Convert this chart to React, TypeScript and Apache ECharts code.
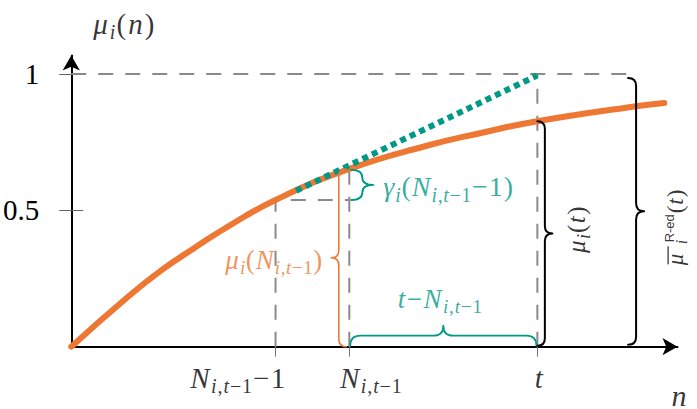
import React, { useEffect, useRef } from 'react';
import * as echarts from 'echarts';

// ---------------- data ----------------
const curveN = [0, 0.77, 1.22, 1.67, 2.12, 2.77, 3.77, 4.82, 5.54, 6.32, 7.66, 8.04];
const curveMu = [0, 0.183, 0.28, 0.362, 0.44, 0.538, 0.652, 0.737, 0.783, 0.827, 0.882, 0.894];
const optimisticN = [3.05, 6.32];
const optimisticMu = [0.572, 0.995];
const nPrev = 2.77; // N_{i,t-1} - 1
const nCur = 3.77; // N_{i,t-1}
const tNow = 6.32; // t
const nUpper = 7.55; // where the upper-bound brace sits
const muPrev = 0.538;
const muCur = 0.652;
const muT = 0.827;
const muMax = 1;
const yTickValues = [0.5, 1];
const yTickLabels = ['0.5', '1'];
const xTickValues = [nPrev, nCur, tNow];
const X_MAX = 8.22;
const Y_MAX = 1.068;

// label texts (token markup: m = math italic, r = upright, s/sr = subscripts)
const TXT_YNAME = '{m|μ}{s|i}{r|(}{m|n}{r|)}';
const TXT_XNAME = '{m|n}';
const TXT_NPREV = '{m|N}{s|i}{sr|,}{s|t}{sr|−}{sr|1}{r|−}{r|1}';
const TXT_NCUR = '{m|N}{s|i}{sr|,}{s|t}{sr|−}{sr|1}';
const TXT_T = '{m|t}';
const TXT_MU_N = '{m|μ}{s|i}{r|(}{m|N}{s|i}{sr|,}{s|t}{sr|−}{sr|1}{r|)}';
const TXT_GAMMA = '{m|γ}{s|i}{r|(}{m|N}{s|i}{sr|,}{s|t}{sr|−}{sr|1}{r|−}{r|1}{r|)}';
const TXT_GAP = '{m|t}{r|−}{m|N}{s|i}{sr|,}{s|t}{sr|−}{sr|1}';
const TXT_MU_T = '{m|μ}{s|i}{r|(}{m|t}{r|)}';
const TXT_UPPER = '{m|μ:21}{s|i:31}{r|(}{m|t}{r|)}';
const TXT_UPPER_SUP = 'R-ed';

// ---------------- styles ----------------
const ORANGE = '#EE7733';
const TEAL = '#009988';
const GREY = '#8a8a8a';
const SERIF = 'Liberation Serif';
const SANS = 'Liberation Sans';

let measureCtx: CanvasRenderingContext2D | null = null;
function measure(text: string, font: string) {
  if (!measureCtx) measureCtx = document.createElement('canvas').getContext('2d');
  if (!measureCtx) return text.length * 10;
  measureCtx.font = font;
  return measureCtx.measureText(text).width;
}

// Lay out a small math expression as separate plain labels anchored at one data point.
function mathLabels(
  anchor: number[],
  off: number[],
  markup: string,
  size: number,
  color: string,
  align = 'center',
  rotate = 0,
  track = 1
) {
  const sub = Math.round(size * 0.7);
  const re = /\{(\w+)\|([^}]*)\}/g;
  const toks: any[] = [];
  let m: RegExpExecArray | null;
  while ((m = re.exec(markup))) {
    const kind = m[1];
    let text = m[2];
    let fixedW: number | null = null;
    const cut = text.lastIndexOf(':');
    if (cut > 0 && /^\d+$/.test(text.slice(cut + 1))) {
      fixedW = Number(text.slice(cut + 1));
      text = text.slice(0, cut);
    }
    const isSub = kind === 's' || kind === 'sr';
    const italic = kind === 'm' || kind === 's';
    const fs = isSub ? sub : size;
    const w = fixedW ?? measure(text, `${italic ? 'italic ' : ''}${fs}px "${SERIF}"`) + track * (isSub ? 0.6 : 1);
    toks.push({ text, fs, italic, w, dy: isSub ? size * 0.3 : 0 });
  }
  const total = toks.reduce((a, t) => a + t.w, 0);
  let lx = align === 'center' ? -total / 2 : align === 'right' ? -total : 0;
  const items: any[] = [];
  for (const t of toks) {
    const ly = t.dy;
    const px = rotate === 90 ? off[0] + ly : off[0] + lx;
    const py = rotate === 90 ? off[1] - lx : off[1] + ly;
    items.push(plainLabel(anchor, px, py, t.text, SERIF, t.fs, t.italic, color, rotate));
    lx += t.w;
  }
  return items;
}

function plainLabel(anchor: number[], px: number, py: number, text: string, family: string, fs: number, italic: boolean, color: string, rotate: number) {
  return {
    value: anchor,
    label: {
      show: true,
      position: [px + 0.5, py + 0.5],
      align: 'left',
      verticalAlign: 'middle',
      rotate,
      formatter: () => text,
      fontFamily: family,
      fontSize: fs,
      fontStyle: italic ? 'italic' : 'normal',
      color,
    },
  };
}

function bracePath(p1: number[], p2: number[], normal: number[], a: number) {
  const dx = p2[0] - p1[0];
  const dy = p2[1] - p1[1];
  const L = Math.hypot(dx, dy);
  const ux = dx / L;
  const uy = dy / L;
  const [nx, ny] = normal;
  const h = a / 2;
  const r = Math.min(h, L / 4);
  const pt = (u: number, v: number) =>
    `${(p1[0] + ux * u + nx * v).toFixed(2)},${(p1[1] + uy * u + ny * v).toFixed(2)}`;
  return (
    `M${pt(0, 0)} Q${pt(0, h)} ${pt(r, h)} L${pt(L / 2 - r, h)} Q${pt(L / 2, h)} ${pt(L / 2, a)} ` +
    `Q${pt(L / 2, h)} ${pt(L / 2 + r, h)} L${pt(L - r, h)} Q${pt(L, h)} ${pt(L, 0)}`
  );
}

function brace(p1: number[], p2: number[], normal: number[], a: number, color: string, width: number) {
  return {
    type: 'path',
    shape: { pathData: bracePath(p1, p2, normal, a) },
    style: { stroke: color, fill: 'none', lineWidth: width, lineCap: 'round', lineJoin: 'round' },
  };
}

const add = (p: number[], dx: number, dy: number) => [p[0] + dx, p[1] + dy];

// upper-bound label placement (pixel offsets from its anchor)
const UPPER_OFF = [47, 55];

function renderBraces(params: any, api: any) {
  if (params.dataIndex !== 0) return null;
  const P = (x: number, y: number) => api.coord([x, y]);
  const ub = P(nUpper, 0.5);
  const sx = ub[0] + UPPER_OFF[0];
  const sy = ub[1] + UPPER_OFF[1];
  return {
    type: 'group',
    children: [
      brace(add(P(nCur, 0), -3, 0), add(P(nCur, muCur), -3, 0), [-1, 0], 15, ORANGE, 1.6),
      brace(add(P(nCur, muCur), 2, 1), add(P(nCur, muPrev), 2, 0), [1, 0], 22, TEAL, 1.8),
      brace(add(P(nCur, 0), 1, -1), add(P(tNow, 0), -1, -1), [0, -1], 20, TEAL, 1.8),
      brace(add(P(tNow, 0), 0, -1), add(P(tNow, muT), 0, 0), [1, 0], 15, '#000', 2),
      brace(add(P(nUpper, 0), 0, -2), add(P(nUpper, muMax), 0, 4), [1, 0], 16, '#000', 2),
      // overline of the mu in the rotated upper-bound label
      {
        type: 'line',
        shape: { x1: sx - 7, y1: sy - 1, x2: sx - 7, y2: sy - 19 },
        style: { stroke: '#000', lineWidth: 1 },
      },
    ],
  };
}

function dashed(points: number[][]) {
  return {
    type: 'line',
    data: points,
    symbol: 'none',
    silent: true,
    z: 1,
    lineStyle: { color: GREY, width: 2, type: [15, 12] },
  };
}

export default function App() {
  const ref = useRef<HTMLDivElement>(null);
  useEffect(() => {
    if (!ref.current) return;
    const chart = echarts.init(ref.current, undefined, { renderer: 'svg' });
    const curveData = curveN.map((n, i) => [n, curveMu[i]]);
    const optData = optimisticN.map((n, i) => [n, optimisticMu[i]]);

    const labelData = [
      ...mathLabels([0, Y_MAX], [22, -32], TXT_YNAME, 29, '#000', 'left', 0, 2),
      ...mathLabels([X_MAX, 0], [2, 49], TXT_XNAME, 30, '#000'),
      ...mathLabels([nPrev, 0], [-37, 31], TXT_NPREV, 29, '#000', 'center', 0, 1.5),
      ...mathLabels([nCur, 0], [22, 31], TXT_NCUR, 29, '#000', 'center', 0, 1.5),
      ...mathLabels([tNow, 0], [2, 31], TXT_T, 29, '#000'),
      ...mathLabels([nCur, muCur / 2], [-26, 2], TXT_MU_N, 27, ORANGE, 'right', 0, 1),
      ...mathLabels([nCur, (muPrev + muCur) / 2], [34, 2], TXT_GAMMA, 28, TEAL, 'left', 0, 1),
      ...mathLabels([(nCur + tNow) / 2, 0], [-3, -48], TXT_GAP, 27, TEAL, 'center', 0, 1.5),
      ...mathLabels([tNow, muT / 2], [39, -5], TXT_MU_T, 25, '#000', 'center', 90, 1.5),
      ...mathLabels([nUpper, 0.5], UPPER_OFF, TXT_UPPER, 23, '#000', 'left', 90, 1),
      plainLabel([nUpper, 0.5], UPPER_OFF[0] - 6, UPPER_OFF[1] - 23, TXT_UPPER_SUP, SANS, 13, false, '#000', 90),
    ];

    chart.setOption({
      animation: false,
      backgroundColor: '#fff',
      grid: { left: 70, right: 19.5, top: 55.5, bottom: 62.3, containLabel: false },
      xAxis: {
        type: 'value',
        min: 0,
        max: X_MAX,
        axisLine: { show: true, lineStyle: { color: '#000', width: 2 }, symbol: ['none', 'arrow'], symbolSize: [13, 15] },
        axisTick: { show: true, customValues: xTickValues, length: 10, lineStyle: { color: '#777', width: 1 } },
        axisLabel: { show: false },
        splitLine: { show: false },
      },
      yAxis: [
        {
          type: 'value',
          min: 0,
          max: Y_MAX,
          position: 'left',
          axisLine: { show: true, lineStyle: { color: '#000', width: 2 }, symbol: ['none', 'arrow'], symbolSize: [13, 15] },
          axisTick: { show: true, customValues: yTickValues, length: 12, lineStyle: { color: '#666', width: 1 } },
          axisLabel: {
            show: true,
            customValues: yTickValues,
            formatter: (v: number) => yTickLabels[yTickValues.indexOf(v)] ?? '',
            fontFamily: SERIF,
            fontSize: 29,
            color: '#000',
            margin: 32,
          },
          splitLine: { show: false },
        },
        {
          type: 'value',
          min: 0,
          max: Y_MAX,
          position: 'left',
          axisLine: { show: false },
          axisTick: { show: true, inside: true, customValues: yTickValues, length: 12, lineStyle: { color: '#666', width: 1 } },
          axisLabel: { show: false },
          splitLine: { show: false },
        },
      ],
      series: [
        dashed([[0, muMax], [nUpper, muMax]]),
        dashed([[nPrev, 0], [nPrev, muPrev], [nCur, muPrev]]),
        dashed([[nCur, 0], [nCur, muCur]]),
        dashed([[tNow, 0], [tNow, muMax]]),
        {
          type: 'line',
          data: curveData,
          smooth: 0.5,
          symbol: 'none',
          silent: true,
          z: 3,
          lineStyle: { color: ORANGE, width: 6, cap: 'round' },
        },
        {
          type: 'line',
          data: optData,
          symbol: 'none',
          silent: true,
          z: 4,
          lineStyle: { color: TEAL, width: 6, type: [6, 4.5], cap: 'butt' },
        },
        {
          type: 'custom',
          coordinateSystem: 'cartesian2d',
          data: [[0, 0]],
          clip: false,
          silent: true,
          z: 5,
          renderItem: renderBraces,
        },
        {
          type: 'scatter',
          data: labelData,
          symbolSize: 1,
          itemStyle: { color: 'rgba(0,0,0,0)' },
          clip: false,
          silent: true,
          z: 6,
          labelLayout: { hideOverlap: false },
        },
      ],
    });
    return () => chart.dispose();
  }, []);
  return <div ref={ref} style={{ position: 'absolute', left: 0, top: 0, width: 697, height: 409 }} />;
}
